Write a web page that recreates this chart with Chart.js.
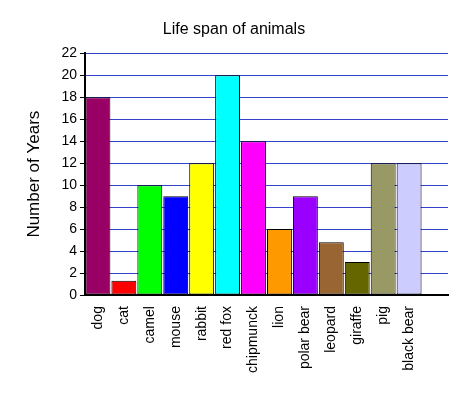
<!DOCTYPE html>
<html><head><script src="https://cdn.jsdelivr.net/npm/chart.js"></script>
<style>body{margin:0;background:#fff}#w{width:474px;height:404px}</style></head>
<body><div id="w"><canvas id="c"></canvas></div>
<script>
const categories=["dog","cat","camel","mouse","rabbit","red fox","chipmunck","lion","polar bear","leopard","giraffe","pig","black bear",""];
const years=[18,1.3,10,9,12,20,14,6,9,4.8,3,12,12,0];
const colors=["#990066","#ff0000","#00ff00","#0000ff","#ffff00","#00ffff","#ff00ff","#ff9900","#9900ff","#996633","#666600","#999966","#ccccff","#000000"];
Chart.defaults.font.family="'Liberation Sans', Arial, sans-serif";
new Chart(document.getElementById('c'),{type:'bar',
data:{labels:categories,datasets:[{data:years,backgroundColor:colors,borderColor:'#000',borderWidth:1,categoryPercentage:1,barPercentage:0.96,borderSkipped:false}]},
options:{responsive:true,maintainAspectRatio:false,animation:false,
layout:{padding:{left:20,right:26,top:12,bottom:28}},
plugins:{legend:{display:false},tooltip:{enabled:false},
title:{display:true,text:'Life span of animals',color:'#000',font:{size:16,weight:'normal'},padding:{top:8,bottom:14}}},
scales:{
x:{grid:{display:false},border:{color:'#000',width:2},ticks:{color:'#000',font:{size:14},maxRotation:90,minRotation:90,autoSkip:false}},
y:{min:0,max:22,ticks:{stepSize:2,color:'#000',font:{size:14}},grid:{color:'#3344cc',drawTicks:true,tickColor:'#000',tickLength:5},border:{color:'#000',width:2},
title:{display:true,text:'Number of Years',color:'#000',font:{size:17},padding:{bottom:14}}}}}});
</script></body></html>
